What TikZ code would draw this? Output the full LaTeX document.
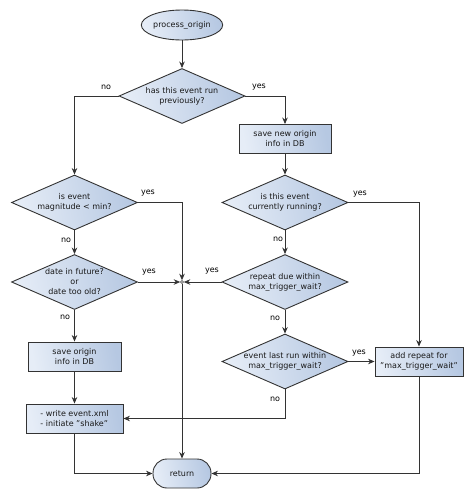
\documentclass[tikz,border=0pt]{standalone}
\usepackage{fontspec}
\setmainfont{DejaVu Sans}
\usetikzlibrary{shapes.geometric,arrows.meta}
\definecolor{fillA}{HTML}{E6EDF7}
\definecolor{fillB}{HTML}{B6C8E2}
\definecolor{edge}{HTML}{333333}
\tikzset{
  base/.style={draw=edge, line width=0.9pt, left color=fillA, right color=fillB, shading angle=100,
    font=\fontsize{8}{10}\selectfont, align=center, inner sep=0pt, text=black!90},
  dec/.style={base, diamond, aspect=2.3, minimum width=126pt, minimum height=55pt},
  proc/.style={base, rectangle, minimum height=29pt},
  term/.style={base, ellipse, minimum width=78pt, minimum height=30pt},
  stop/.style={base, rectangle, rounded corners=14pt, minimum width=58pt, minimum height=29pt},
  lbl/.style={font=\fontsize{8}{9}\selectfont, inner sep=0pt},
  conn/.style={draw=edge, line width=0.8pt, -{Stealth[length=6.5pt,width=5.5pt]}},
}
\begin{document}
\begin{tikzpicture}[x=1pt,y=-1pt]
\useasboundingbox (0,0) rectangle (474,499);
\node[term] (po) at (182,25) {process\_origin};
\node[dec] (d1) at (182,96) {has this event run\\previously?};
\node[proc, minimum width=92pt] (b1) at (285,139) {save new origin\\info in DB};
\node[dec] (d2) at (74.5,202.5) {is event\\magnitude < min?};
\node[dec] (d3) at (285,202.5) {is this event\\currently running?};
\node[dec] (d4) at (74.5,282) {date in future?\\or\\date too old?};
\node[dec] (d5) at (285,282) {repeat due within\\max\_trigger\_wait?};
\node[draw=edge, fill=white, circle, inner sep=0pt, minimum size=3pt, line width=0.6pt] (junc) at (182,282) {};
\node[proc, minimum width=93pt] (b2) at (74.5,356.5) {save origin\\info in DB};
\node[dec] (d6) at (285,361.5) {event last run within\\max\_trigger\_wait?};
\node[proc, minimum width=88pt] (ar) at (419,361.5) {add repeat for\\"max\_trigger\_wait"};
\node[proc, minimum width=97pt, align=left] (b3) at (74.5,418.5) {- write event.xml\\- initiate "shake"};
\node[stop] (ret) at (182,473.5) {return};

\node[lbl] (l1) at (106,87) {no};
\node[lbl] (l2) at (259,87) {yes};
\node[lbl] (l3) at (148,193) {yes};
\node[lbl] (l4) at (360,194) {yes};
\node[lbl] (l5) at (66,240) {no};
\node[lbl] (l6) at (278,239) {no};
\node[lbl] (l7) at (149,272) {yes};
\node[lbl] (l8) at (212,271) {yes};
\node[lbl] (l9) at (65,317) {no};
\node[lbl] (l10) at (275,318) {no};
\node[lbl] (l11) at (359,353) {yes};
\node[lbl] (l12) at (275,399) {no};

\draw[conn] (po) -- (d1);
\draw[conn] (d1.west) -| (d2.north);
\draw[conn] (d1.east) -| (b1.north);
\draw[conn] (b1) -- (d3);
\draw[conn] (d2.east) -| (junc.north);
\draw[conn] (d3.east) -| (ar.north);
\draw[conn] (d2) -- (d4);
\draw[conn] (d3) -- (d5);
\draw[conn] (d4.east) -- (junc.west);
\draw[conn] (d5.west) -- (junc.east);
\draw[conn] (junc.south) -- (ret.north);
\draw[conn] (d4) -- (b2);
\draw[conn] (d5) -- (d6);
\draw[conn] (d6.east) -- (ar.west);
\draw[conn] (d6.south) |- (b3.east);
\draw[conn] (b2) -- (b3);
\draw[conn] (b3.south) |- (ret.west);
\draw[conn] (ar.south) |- (ret.east);
\end{tikzpicture}
\end{document}
